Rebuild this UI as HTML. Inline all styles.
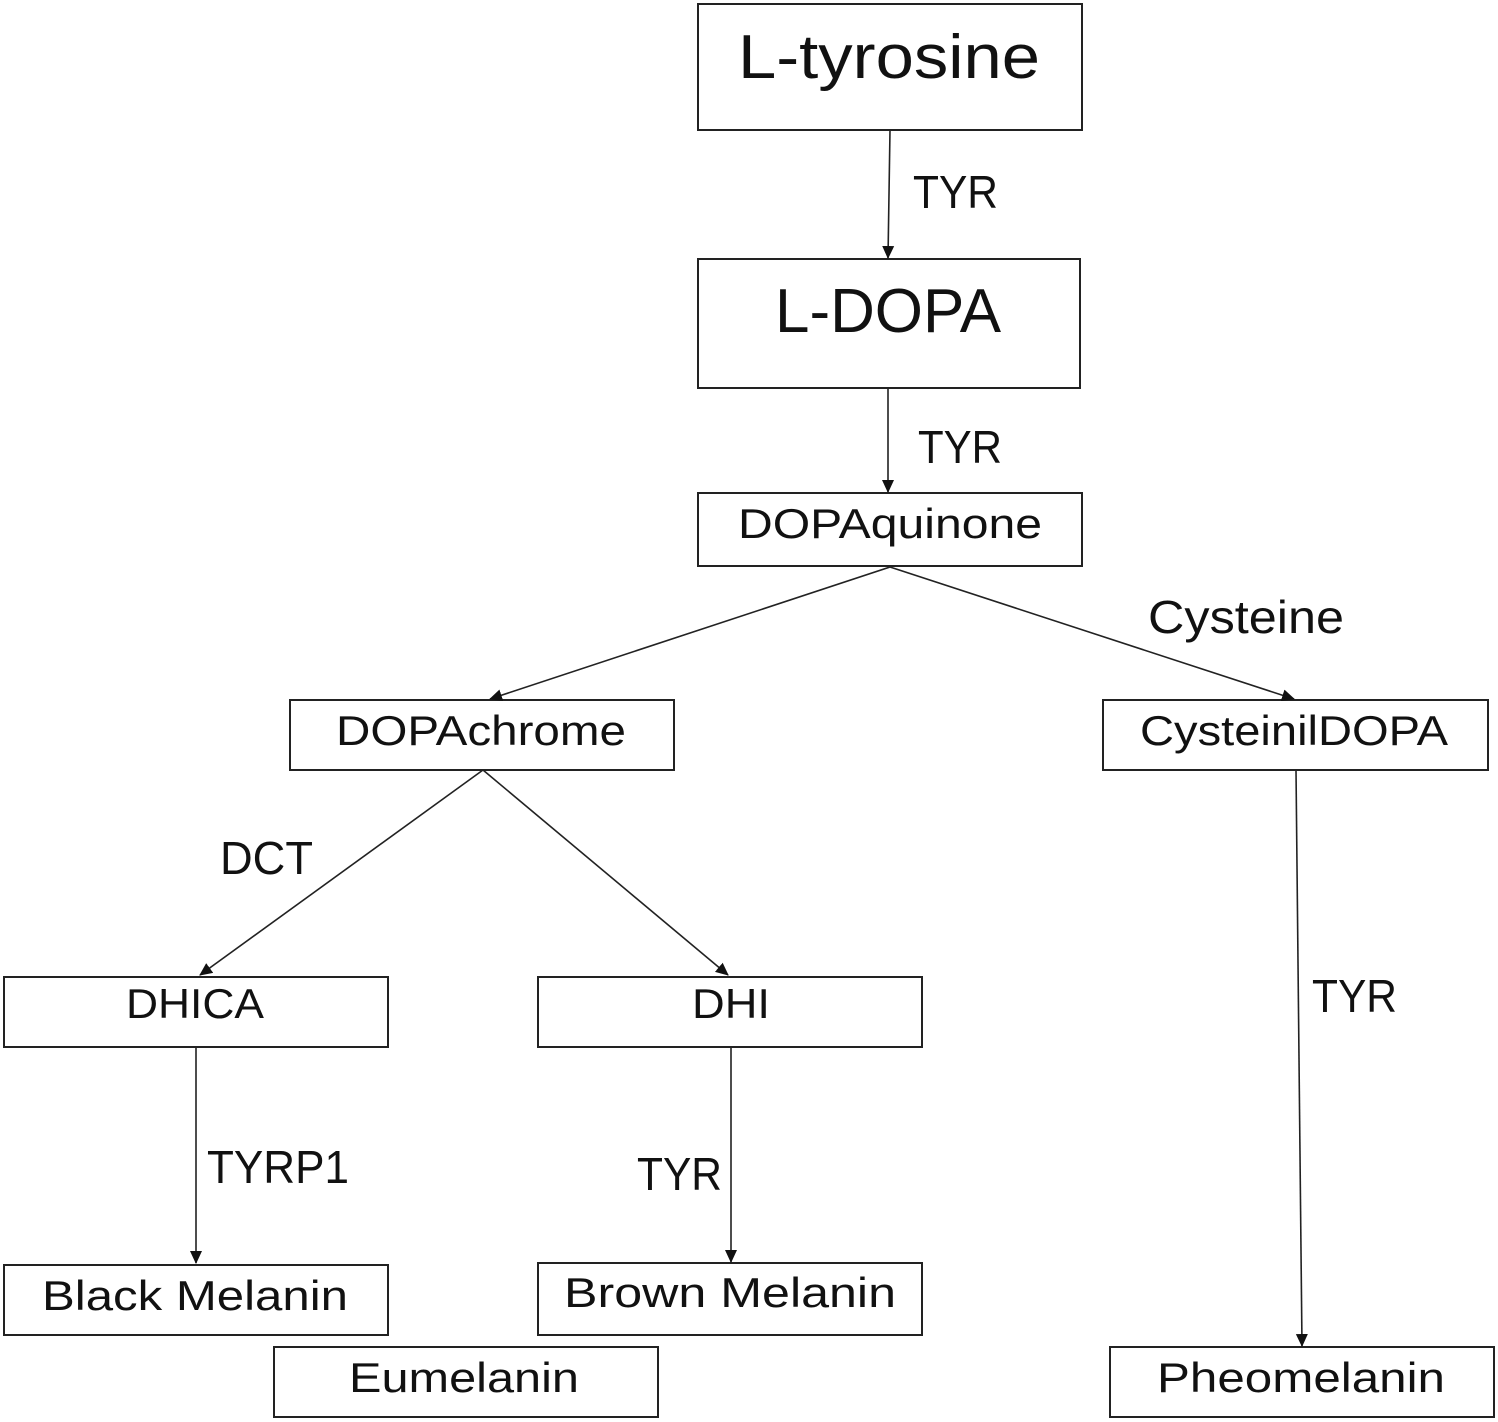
<!DOCTYPE html>
<html><head><meta charset="utf-8"><style>html,body{margin:0;padding:0;background:#fff}svg{display:block}</style></head>
<body>
<svg width="1498" height="1422" viewBox="0 0 1498 1422" xmlns="http://www.w3.org/2000/svg" font-family="Liberation Sans, sans-serif" fill="#111">
<defs><marker id="a" markerWidth="14" markerHeight="14" refX="12" refY="7" orient="auto" markerUnits="userSpaceOnUse"><path d="M0,1 L13,7 L0,13 z" fill="#111"/></marker></defs>
<g fill="none" stroke="#222" stroke-width="2">
<rect x="698" y="4" width="384" height="126"/>
<rect x="698" y="259" width="382" height="129"/>
<rect x="698" y="493" width="384" height="73"/>
<rect x="290" y="700" width="384" height="70"/>
<rect x="1103" y="700" width="385" height="70"/>
<rect x="4" y="977" width="384" height="70"/>
<rect x="538" y="977" width="384" height="70"/>
<rect x="4" y="1265" width="384" height="70"/>
<rect x="538" y="1263" width="384" height="72"/>
<rect x="274" y="1347" width="384" height="70"/>
<rect x="1110" y="1347" width="384" height="70"/>
</g>
<g stroke="#222" stroke-width="1.6" marker-end="url(#a)">
<line x1="890" y1="130" x2="888" y2="258"/>
<line x1="888" y1="388" x2="888" y2="492"/>
<line x1="890" y1="567" x2="490" y2="699"/>
<line x1="890" y1="567" x2="1294" y2="699"/>
<line x1="483" y1="770" x2="200" y2="975"/>
<line x1="483" y1="770" x2="728" y2="975"/>
<line x1="196" y1="1047" x2="196" y2="1263"/>
<line x1="731" y1="1047" x2="731" y2="1262"/>
<line x1="1296" y1="770" x2="1302" y2="1346"/>
</g>
<g font-size="62">
<text x="738" y="78" textLength="302" lengthAdjust="spacingAndGlyphs">L-tyrosine</text>
<text x="775" y="332" textLength="226" lengthAdjust="spacingAndGlyphs">L-DOPA</text>
</g>
<g font-size="42">
<text x="738" y="538" textLength="304" lengthAdjust="spacingAndGlyphs">DOPAquinone</text>
<text x="336" y="745" textLength="290" lengthAdjust="spacingAndGlyphs">DOPAchrome</text>
<text x="1140" y="745" textLength="308" lengthAdjust="spacingAndGlyphs">CysteinilDOPA</text>
<text x="126" y="1018" textLength="138" lengthAdjust="spacingAndGlyphs">DHICA</text>
<text x="692" y="1018" textLength="78" lengthAdjust="spacingAndGlyphs">DHI</text>
<text x="42" y="1310" textLength="306" lengthAdjust="spacingAndGlyphs">Black Melanin</text>
<text x="564" y="1307" textLength="332" lengthAdjust="spacingAndGlyphs">Brown Melanin</text>
<text x="349" y="1392" textLength="230" lengthAdjust="spacingAndGlyphs">Eumelanin</text>
<text x="1157" y="1392" textLength="288" lengthAdjust="spacingAndGlyphs">Pheomelanin</text>
</g>
<g font-size="46">
<text x="913" y="208" textLength="85" lengthAdjust="spacingAndGlyphs">TYR</text>
<text x="918" y="463" textLength="84" lengthAdjust="spacingAndGlyphs">TYR</text>
<text x="1148" y="633" textLength="196" lengthAdjust="spacingAndGlyphs">Cysteine</text>
<text x="220" y="874" textLength="93" lengthAdjust="spacingAndGlyphs">DCT</text>
<text x="207" y="1183" textLength="142" lengthAdjust="spacingAndGlyphs">TYRP1</text>
<text x="637" y="1190" textLength="85" lengthAdjust="spacingAndGlyphs">TYR</text>
<text x="1312" y="1012" textLength="85" lengthAdjust="spacingAndGlyphs">TYR</text>
</g>
</svg>
</body></html>
